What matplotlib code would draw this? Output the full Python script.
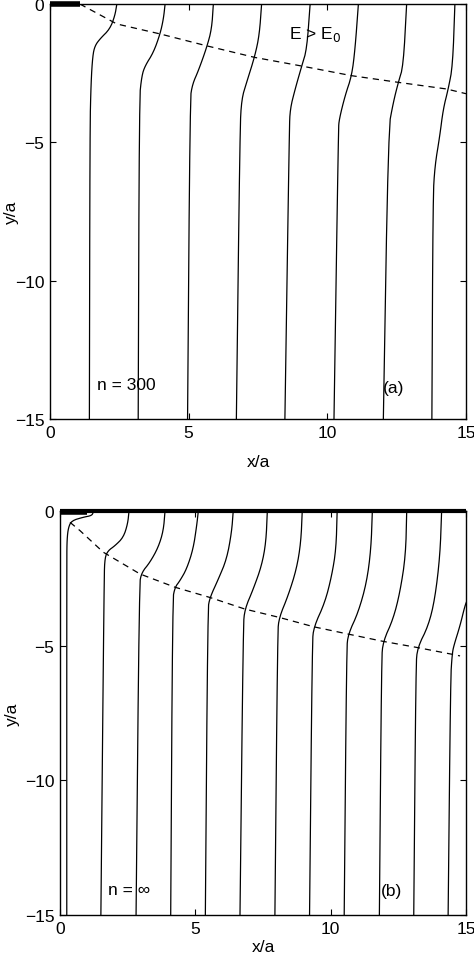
import numpy as np
import matplotlib
matplotlib.use('Agg')
import matplotlib.pyplot as plt

plt.rcParams['font.family'] = ['Liberation Sans', 'DejaVu Sans']

# panel (a): n = 300, field lines
top_x = [
    [2.41, 2.34, 2.16, 1.80, 1.62, 1.54, 1.48, 1.44, 1.42],
    [4.15, 4.09, 3.97, 3.73, 3.43, 3.31, 3.22, 3.18],
    [5.89, 5.83, 5.65, 5.35, 5.14, 5.05, 4.96],
    [7.63, 7.55, 7.39, 7.09, 6.91, 6.85, 6.72],
    [9.38, 9.26, 9.08, 8.84, 8.66, 8.63, 8.47],
    [11.12, 11.00, 10.88, 10.64, 10.43, 10.40, 10.24],
    [12.86, 12.74, 12.56, 12.38, 12.20, 12.02],
    [14.60, 14.52, 14.36, 14.18, 14.05, 13.88, 13.81, 13.77],
]
top_y = [
    [0, -0.42, -0.90, -1.26, -1.51, -1.87, -2.82, -4.52, -15],
    [0, -0.54, -1.08, -1.75, -2.23, -2.59, -3.43, -15],
    [0, -0.90, -1.57, -2.41, -2.89, -3.43, -15],
    [0, -1.10, -1.87, -2.83, -3.43, -4.52, -15],
    [0, -1.63, -2.23, -3.07, -3.79, -4.52, -15],
    [0, -1.63, -2.59, -3.31, -4.16, -4.52, -15],
    [0, -2.23, -2.83, -3.55, -4.52, -15],
    [0, -2.23, -3.07, -3.79, -4.80, -5.84, -7.0, -15],
]
top_dash_x = [1.08, 2.41, 3.97, 5.65, 7.39, 9.02, 10.88, 12.56, 14.30, 15.0]
top_dash_y = [0, -0.72, -1.08, -1.51, -1.93, -2.23, -2.59, -2.83, -3.07, -3.24]

# panel (b): n = infinity
bot_x = [
    [1.23, 1.23, 1.17, 0.86, 0.43, 0.31, 0.26, 0.25, 0.25],
    [2.55, 2.50, 2.34, 2.03, 1.78, 1.66, 1.63, 1.51],
    [3.88, 3.82, 3.63, 3.32, 3.02, 2.93, 2.81],
    [5.11, 5.05, 4.92, 4.68, 4.43, 4.25, 4.16, 4.09],
    [6.40, 6.34, 6.16, 5.85, 5.54, 5.46, 5.37],
    [7.66, 7.61, 7.45, 7.14, 6.83, 6.77, 6.65],
    [8.95, 8.90, 8.74, 8.43, 8.10, 8.04, 7.94],
    [10.24, 10.20, 10.04, 9.79, 9.38, 9.32, 9.22],
    [11.54, 11.49, 11.33, 11.02, 10.65, 10.59, 10.50],
    [12.81, 12.77, 12.56, 12.31, 11.94, 11.88, 11.80],
    [14.10, 14.04, 13.85, 13.61, 13.21, 13.15, 13.07],
    [15.05, 14.96, 14.78, 14.55, 14.49, 14.43, 14.34],
]
bot_y = [
    [0, -0.05, -0.17, -0.23, -0.36, -0.61, -1.04, -1.78, -15],
    [0, -0.48, -0.98, -1.29, -1.47, -1.72, -2.46, -15],
    [0, -0.73, -1.35, -1.91, -2.28, -2.71, -15],
    [0, -0.55, -1.41, -2.15, -2.59, -2.83, -3.27, -15],
    [0, -0.79, -1.78, -2.53, -3.21, -3.64, -15],
    [0, -1.16, -2.03, -2.90, -3.64, -4.26, -15],
    [0, -1.16, -2.15, -3.14, -3.95, -4.50, -15],
    [0, -1.41, -2.40, -3.39, -4.30, -4.88, -15],
    [0, -1.41, -2.65, -3.76, -4.57, -5.12, -15],
    [0, -1.66, -3.02, -4.01, -4.84, -5.50, -15],
    [0, -1.66, -3.27, -4.26, -5.07, -5.74, -15],
    [-3.30, -3.52, -4.26, -5.00, -5.31, -6.24, -15],
]
bot_dash_x = [0.37, 0.74, 1.60, 2.96, 4.25, 5.54, 6.83, 8.10, 9.38, 10.65, 11.94, 13.21, 14.49, 14.78]
bot_dash_y = [-0.42, -0.73, -1.53, -2.34, -2.83, -3.21, -3.64, -3.95, -4.30, -4.57, -4.84, -5.07, -5.32, -5.38]


def smooth(xs, ys, n=2):
    # chaikin corner cutting, only to draw the traced lines a bit rounder
    p = np.column_stack([xs, ys]).astype(float)
    for _ in range(n):
        q = [p[0]]
        for a, b in zip(p[:-1], p[1:]):
            q.append(0.75 * a + 0.25 * b)
            q.append(0.25 * a + 0.75 * b)
        q.append(p[-1])
        p = np.array(q)
    return p[:, 0], p[:, 1]


fig = plt.figure(figsize=(4.74, 9.54), dpi=100)
ax1 = fig.add_axes([0.1055, 0.5597, 0.8776, 0.4350])
ax2 = fig.add_axes([0.1266, 0.0398, 0.8565, 0.4235])

fs = 12.5

def style(ax, xl, yl):
    ax.set_xlim(0, 15)
    ax.set_ylim(-15, 0)
    ax.set_xticks([0, 5, 10, 15])
    ax.set_yticks([-15, -10, -5, 0])
    ax.tick_params(direction='in', top=True, right=True, length=4, width=0.8, labelsize=fs, pad=4)
    for s in ax.spines.values():
        s.set_linewidth(1.0)
    ax.set_xlabel('x/a', fontsize=fs)
    ax.set_ylabel('y/a', fontsize=fs)
    ax.xaxis.set_label_coords(0.5, xl)
    ax.yaxis.set_label_coords(yl, 0.5)

for xs, ys in zip(top_x, top_y):
    sx, sy = smooth(xs, ys)
    ax1.plot(sx, sy, color='black', lw=0.9)
ax1.plot(top_dash_x, top_dash_y, '--', color='black', lw=0.9, dashes=(5, 4))
ax1.plot([0, 1.08], [0, 0], color='black', lw=4, solid_capstyle='butt', clip_on=False)
ax1.text(8.6, -1.08, r'E > E$_0$', fontsize=fs, va='center')
ax1.text(1.7, -13.75, 'n = 300', fontsize=fs, va='center')
ax1.text(12.0, -13.85, '(a)', fontsize=fs, va='center')
style(ax1, -0.085, -0.075)

for xs, ys in zip(bot_x, bot_y):
    sx, sy = smooth(xs, ys)
    ax2.plot(sx, sy, color='black', lw=0.9)
ax2.plot(bot_dash_x, bot_dash_y, '--', color='black', lw=0.9, dashes=(5, 4))
ax2.plot([0, 15], [0, 0], color='black', lw=3, solid_capstyle='butt', clip_on=False)
ax2.plot([0, 1.0], [-0.05, -0.05], color='black', lw=4, solid_capstyle='butt', clip_on=False)
ax2.text(1.77, -14.05, 'n = ∞', fontsize=fs, va='center')
ax2.text(11.85, -14.1, '(b)', fontsize=fs, va='center')
style(ax2, -0.06, -0.10)

fig.savefig('out.png', dpi=100)
